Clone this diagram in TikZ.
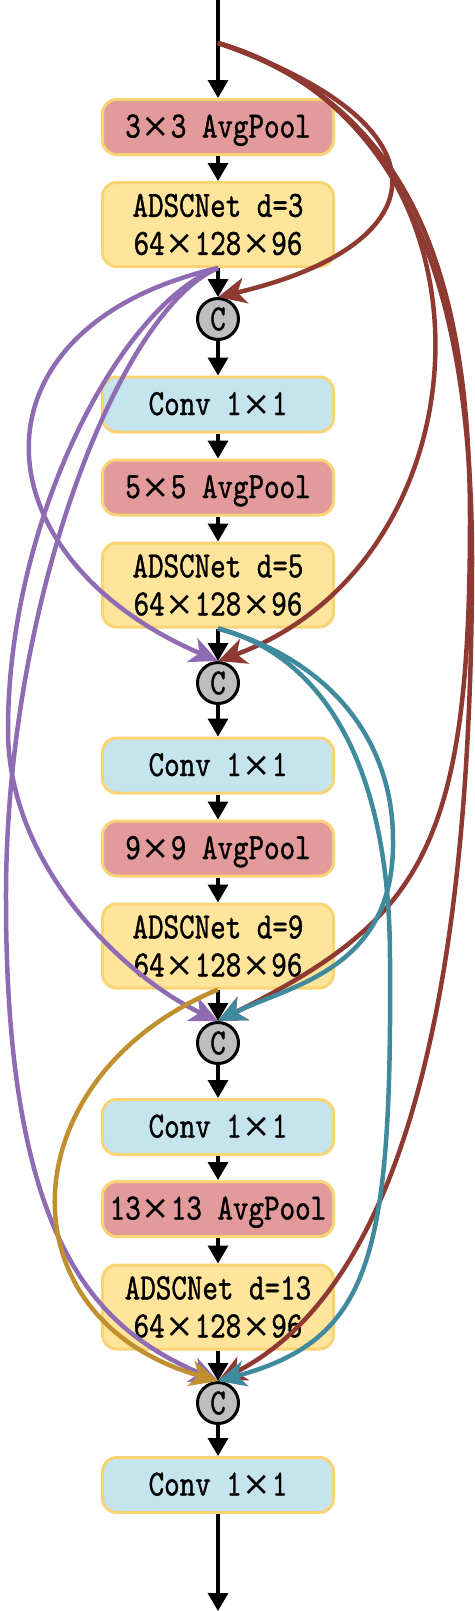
\documentclass[tikz,border=0pt]{standalone}
\usepackage{fontspec}
\newfontfamily\boxfont{lmmono10-regular.otf}[FakeStretch=0.8,FakeBold=1]
\newfontfamily\symfont{DejaVu Sans}
\usetikzlibrary{arrows.meta}
\definecolor{poolc}{HTML}{E29A9A}
\definecolor{adscc}{HTML}{FFE59C}
\definecolor{convc}{HTML}{C5E4EE}
\definecolor{bordc}{HTML}{F9D474}
\definecolor{circc}{HTML}{BEBEBE}
\definecolor{redc}{HTML}{8E3A33}
\definecolor{purc}{HTML}{8E6BB3}
\definecolor{tealc}{HTML}{3F8A9C}
\definecolor{goldc}{HTML}{C0902E}
\newcommand\mx{\makebox[30pt]{\symfont\fontsize{34pt}{38pt}\selectfont ×}}
\tikzset{
  box/.style={rounded corners=14pt, line width=3pt, draw=bordc, minimum width=231pt,
    inner sep=0pt, align=center, font=\boxfont\fontsize{37pt}{38pt}\selectfont},
  onebox/.style={box, minimum height=55pt, text height=27pt, text depth=6pt},
  poolbox/.style={onebox, fill=poolc},
  convbox/.style={onebox, fill=convc},
  adscbox/.style={box, fill=adscc, minimum height=84pt},
  cnode/.style={circle, draw=black, line width=3pt, fill=circc, minimum size=41pt, inner sep=0pt,
    font=\boxfont\fontsize{37pt}{38pt}\selectfont},
  arr/.style={line width=3.5pt, -{Triangle[length=18pt,width=20pt]}},
  curve/.style={line width=4.5pt, line join=round, -{Stealth[length=28pt,width=26pt,inset=8pt]}}
}
\begin{document}
\begin{tikzpicture}[x=1pt,y=-1pt]
\useasboundingbox (0,0) rectangle (474,1611);
\coordinate (in) at (218,0);
\coordinate (s0) at (218,43);
\coordinate (out) at (218,1611);

\node[poolbox] (pool1) at (218,127) {3\mx3 AvgPool};
\node[adscbox] (adsc3) at (218,224.5) {ADSCNet d=3\\64\mx128\mx96};
\node[cnode] (c1) at (218,319) {C};
\node[convbox] (conv1) at (218,404.5) {Conv 1\mx1};
\node[poolbox] (pool5) at (218,487.5) {5\mx5 AvgPool};
\node[adscbox] (adsc5) at (218,585) {ADSCNet d=5\\64\mx128\mx96};
\node[cnode] (c2) at (218,683) {C};
\node[convbox] (conv2) at (218,765.5) {Conv 1\mx1};
\node[poolbox] (pool9) at (218,848.5) {9\mx9 AvgPool};
\node[adscbox] (adsc9) at (218,946) {ADSCNet d=9\\64\mx128\mx96};
\node[cnode] (c3) at (218,1043) {C};
\node[convbox] (conv3) at (218,1127) {Conv 1\mx1};
\node[poolbox] (pool13) at (218,1209) {13\mx13 AvgPool};
\node[adscbox] (adsc13) at (218,1307) {ADSCNet d=13\\64\mx128\mx96};
\node[cnode] (c4) at (218,1403) {C};
\node[convbox] (conv4) at (218,1485) {Conv 1\mx1};

\draw[arr] (in) -- (pool1.north);
\draw[arr] (pool1) -- (adsc3);
\draw[arr] (adsc3) -- (c1);
\draw[arr] (c1) -- (conv1);
\draw[arr] (conv1) -- (pool5);
\draw[arr] (pool5) -- (adsc5);
\draw[arr] (adsc5) -- (c2);
\draw[arr] (c2) -- (conv2);
\draw[arr] (conv2) -- (pool9);
\draw[arr] (pool9) -- (adsc9);
\draw[arr] (adsc9) -- (c3);
\draw[arr] (c3) -- (conv3);
\draw[arr] (conv3) -- (pool13);
\draw[arr] (pool13) -- (adsc13);
\draw[arr] (adsc13) -- (c4);
\draw[arr] (c4) -- (conv4);
\draw[arr] (conv4) -- (out);

% red
\draw[curve, redc] (s0) .. controls (455,125) and (440,245) .. (c1.north);
\draw[curve, redc] (s0) .. controls (515,130) and (495,560) .. (c2.north);
\draw[curve, redc] (s0) .. controls (408,105) and (470,270) .. (470,520)
   .. controls (470,850) and (420,920) .. (c3.north);
\draw[curve, redc] (s0) .. controls (410,100) and (472,300) .. (472,560)
   .. controls (472,1000) and (400,1290) .. (c4.north);
% teal
\draw[curve, tealc] (adsc5.south) .. controls (330,660) and (393,740) .. (393,840)
   .. controls (395,970) and (290,985) .. (c3.north);
\draw[curve, tealc] (adsc5.south) .. controls (320,655) and (390,760) .. (390,960)
   .. controls (392,1260) and (370,1340) .. (c4.north);
% purple
\draw[curve, purc] (adsc3.south) .. controls (-38,327) and (-25,557) .. (c2.north);
\draw[curve, purc] (adsc3.south) .. controls (120,305) and (8,520) .. (8,730)
   .. controls (8,870) and (130,980) .. (c3.north);
\draw[curve, purc] (adsc3.south) .. controls (120,310) and (5,600) .. (6,900)
   .. controls (6,1250) and (100,1330) .. (c4.north);
% gold
\draw[curve, goldc] (adsc9.south) .. controls (8,1077) and (-1,1319) .. (c4.north);
\end{tikzpicture}
\end{document}
